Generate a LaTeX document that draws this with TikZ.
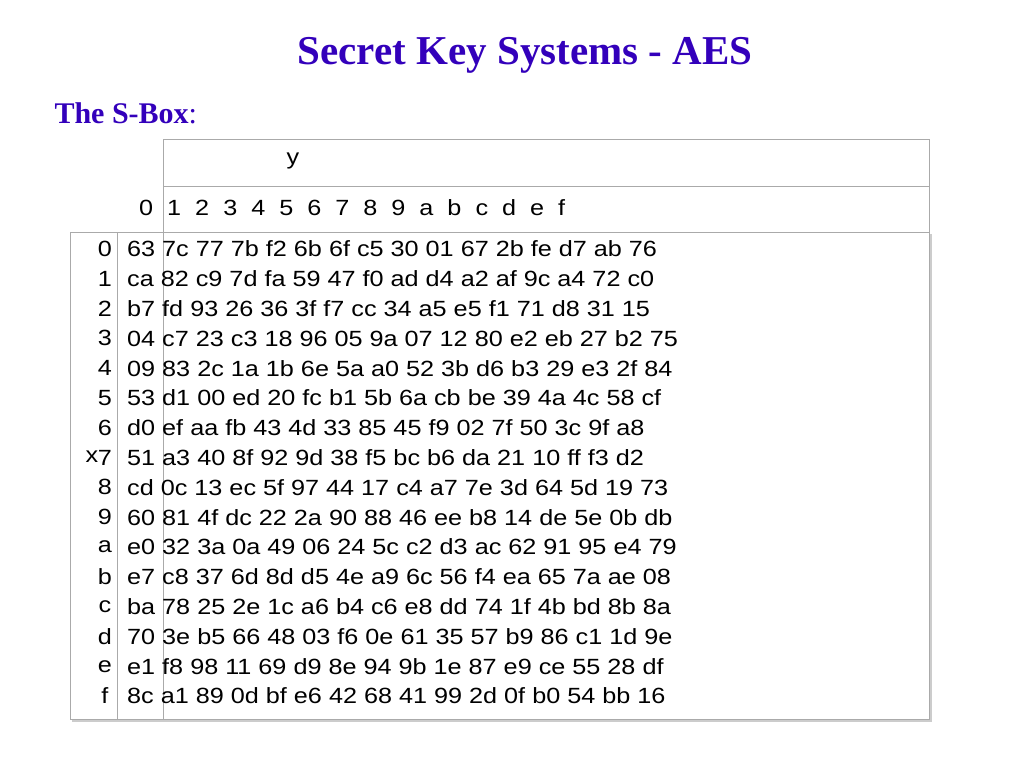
\documentclass[tikz,border=0pt]{standalone}
\usepackage{fontspec}
\setmainfont{Liberation Sans}
\newfontfamily\wide[FakeStretch=1.146]{Liberation Sans}
\newfontfamily\seriff{Liberation Serif}
\definecolor{ttl}{HTML}{3300BB}
\definecolor{ln}{HTML}{AAAAAA}
\begin{document}
\begin{tikzpicture}[x=1pt,y=-1pt,
  row/.style={anchor=west,font=\wide\fontsize{22}{22}\selectfont,inner sep=0pt},
  lbl/.style={anchor=center,font=\wide\fontsize{22}{22}\selectfont,inner sep=0pt},
  gridl/.style={draw=ln,line width=0.8pt}]
\useasboundingbox (0,0) rectangle (1024,768);
\node[font=\seriff\bfseries\fontsize{41}{41}\selectfont,text=ttl] (title) at (525,55) {Secret Key Systems - AES};
\node[anchor=west,font=\seriff\fontsize{30}{30}\selectfont,text=ttl] (sub) at (51,113) {\textbf{The S-Box}:};
\draw[gray!40,line width=2pt] (72,721) -- (931,721) -- (931,234);
\draw[gridl] (163,139) rectangle (929,232);
\draw[gridl] (163,186) -- (929,186);
\draw[gridl] (70,232) rectangle (929,719);
\draw[gridl] (117,232) -- (117,719);
\draw[gridl] (163,186) -- (163,719);
\node[lbl] (y) at (293,161) {y};
\node[row] (hdr) at (139,208) {0\ \ 1\ \ 2\ \ 3\ \ 4\ \ 5\ \ 6\ \ 7\ \ 8\ \ 9\ \ a\ \ b\ \ c\ \ d\ \ e\ \ f};
\node[lbl] (x) at (92,457) {x};
\foreach \i/\r [count=\k from 0] in {
0/63 7c 77 7b f2 6b 6f c5 30 01 67 2b fe d7 ab 76,
1/ca 82 c9 7d fa 59 47 f0 ad d4 a2 af 9c a4 72 c0,
2/b7 fd 93 26 36 3f f7 cc 34 a5 e5 f1 71 d8 31 15,
3/04 c7 23 c3 18 96 05 9a 07 12 80 e2 eb 27 b2 75,
4/09 83 2c 1a 1b 6e 5a a0 52 3b d6 b3 29 e3 2f 84,
5/53 d1 00 ed 20 fc b1 5b 6a cb be 39 4a 4c 58 cf,
6/d0 ef aa fb 43 4d 33 85 45 f9 02 7f 50 3c 9f a8,
7/51 a3 40 8f 92 9d 38 f5 bc b6 da 21 10 ff f3 d2,
8/cd 0c 13 ec 5f 97 44 17 c4 a7 7e 3d 64 5d 19 73,
9/60 81 4f dc 22 2a 90 88 46 ee b8 14 de 5e 0b db,
a/e0 32 3a 0a 49 06 24 5c c2 d3 ac 62 91 95 e4 79,
b/e7 c8 37 6d 8d d5 4e a9 6c 56 f4 ea 65 7a ae 08,
c/ba 78 25 2e 1c a6 b4 c6 e8 dd 74 1f 4b bd 8b 8a,
d/70 3e b5 66 48 03 f6 0e 61 35 57 b9 86 c1 1d 9e,
e/e1 f8 98 11 69 d9 8e 94 9b 1e 87 e9 ce 55 28 df,
f/8c a1 89 0d bf e6 42 68 41 99 2d 0f b0 54 bb 16}{
  \node[lbl] (l\k) at (105,{249+29.8*\k}) {\i};
  \node[row] (r\k) at (127,{249+29.8*\k}) {\r};
}
\end{tikzpicture}
\end{document}
